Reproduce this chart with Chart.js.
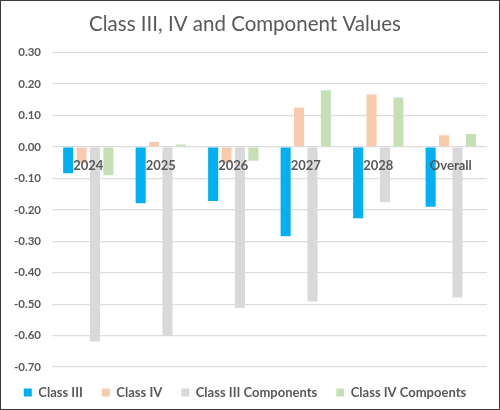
<!DOCTYPE html>
<html>
<head>
<meta charset="utf-8">
<script src="https://cdn.jsdelivr.net/npm/chart.js@4.4.1/dist/chart.umd.min.js"></script>
<style>
  body { margin: 0; background: #fff; }
  #wrap { width: 500px; height: 410px; box-sizing: border-box; border: 1px solid #3a3a3a; position: relative; }
</style>
</head>
<body>
<div id="wrap"><canvas id="chart"></canvas></div>
<script>
// categories and series
const categories = ['2024', '2025', '2026', '2027', '2028', 'Overall'];
const classIII = [-0.084, -0.179, -0.172, -0.284, -0.227, -0.190];
const classIV = [-0.050, 0.016, -0.050, 0.125, 0.167, 0.037];
const classIIIComponents = [-0.619, -0.599, -0.512, -0.492, -0.176, -0.479];
const classIVComponents = [-0.090, 0.008, -0.044, 0.180, 0.157, 0.041];

const textColor = '#595959';
const font = 'Lato, "Open Sans", sans-serif';

new Chart(document.getElementById('chart'), {
    type: 'bar',
    data: {
        labels: categories,
        datasets: [
            { label: 'Class III', data: classIII, backgroundColor: '#00B0F0' },
            { label: 'Class IV', data: classIV, backgroundColor: '#F8CBAD' },
            { label: 'Class III Components', data: classIIIComponents, backgroundColor: '#D9D9D9' },
            { label: 'Class IV Compoents', data: classIVComponents, backgroundColor: '#C5E0B4' }
        ]
    },
    options: {
        responsive: true,
        maintainAspectRatio: false,
        animation: false,
        datasets: {
            bar: { categoryPercentage: 0.74, barPercentage: 0.75 }
        },
        layout: { padding: { left: 2, right: 12, top: 4, bottom: 0 } },
        plugins: {
            title: {
                display: true,
                text: 'Class III, IV and Component Values',
                color: textColor,
                font: { family: font, size: 20.5, weight: 'normal' },
                padding: { top: 7, bottom: 16 }
            },
            legend: {
                position: 'bottom',
                labels: {
                    color: textColor,
                    font: { family: font, size: 13, weight: 'bold' },
                    boxWidth: 8,
                    boxHeight: 8,
                    padding: 19
                }
            },
            tooltip: { enabled: false }
        },
        scales: {
            x: {
                position: { y: 0 },
                grid: { display: false },
                border: { display: false },
                ticks: {
                    z: 1,
                    color: textColor,
                    padding: 3,
                    font: { family: font, size: 13, weight: 'bold' }
                }
            },
            y: {
                min: -0.7,
                max: 0.3,
                grid: { color: '#DDDDDD', lineWidth: 1.2, drawTicks: false },
                border: { display: false },
                ticks: {
                    stepSize: 0.1,
                    color: textColor,
                    padding: 11,
                    font: { family: font, size: 11.5, weight: 'bold' },
                    callback: v => v.toFixed(2)
                }
            }
        }
    }
});
</script>
</body>
</html>
